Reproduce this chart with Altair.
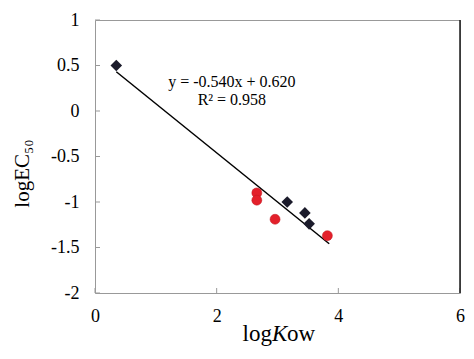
import altair as alt
import pandas as pd

# Data
diamond_x = [0.35, 3.16, 3.45, 3.52]
diamond_y = [0.50, -1.00, -1.12, -1.24]
circle_x = [2.66, 2.66, 2.96, 3.82]
circle_y = [-0.90, -0.98, -1.19, -1.37]

slope = -0.540
intercept = 0.620
fit_x = [0.35, 3.85]

x_ticks = [0, 2, 4, 6]
y_ticks = [-2, -1.5, -1, -0.5, 0, 0.5, 1]

eq_lines = ["y = -0.540x + 0.620", "R\u00b2 = 0.958"]
eq_x = [2.25, 2.25]
eq_y = [0.32, 0.12]

x_title_parts = ["log", "K", "ow"]

FONT = "Liberation Serif"

diamonds = pd.DataFrame({"x": diamond_x, "y": diamond_y})
circles = pd.DataFrame({"x": circle_x, "y": circle_y})
fit = pd.DataFrame({"x": fit_x, "y": [slope * v + intercept for v in fit_x]})
eq = pd.DataFrame({"x": eq_x, "y": eq_y, "t": eq_lines})
xt = pd.DataFrame({"x": x_ticks})
yt = pd.DataFrame({"y": y_ticks})

xscale = alt.Scale(domain=[0, 6], nice=False, zero=False)
yscale = alt.Scale(domain=[-2, 1], nice=False, zero=False)

lab = dict(labelFont=FONT, labelFontSize=18, labelColor="black", labelFlush=False,
           grid=False, ticks=False, domain=False)

xaxis = alt.Axis(values=x_ticks, title=None, labelExpr="replace(datum.label, '\u2212', '-')",
                 format="~g", labelPadding=14, **lab)
yaxis = alt.Axis(values=y_ticks, title="logEC\u2085\u2080", format="~g",
                 labelExpr="replace(datum.label, '\u2212', '-')", labelPadding=16,
                 titleFont=FONT, titleFontSize=21, titleFontWeight="normal", titleColor="black",
                 titleX=-73, titleY=153, titleAngle=270, titleAlign="center",
                 titleBaseline="middle", **lab)

X = alt.X("x:Q", scale=xscale, axis=xaxis)
Y = alt.Y("y:Q", scale=yscale, axis=yaxis)

xtick = alt.Chart(xt).mark_rule(color="#999999", strokeWidth=1).encode(
    x=X, y=alt.value(273), y2=alt.value(268))
ytick = alt.Chart(yt).mark_rule(color="#999999", strokeWidth=1).encode(
    y=Y, x=alt.value(0), x2=alt.value(5))

# darker right-hand frame edge, as in the reference
right_edge = alt.Chart(xt).transform_filter("datum.x == 6").mark_rule(
    color="#1a1a1a", strokeWidth=1.5).encode(x=X, y=alt.value(0), y2=alt.value(273))

line = alt.Chart(fit).mark_line(color="black", strokeWidth=1.5).encode(x=X, y=Y)

pts_d = alt.Chart(diamonds).mark_point(shape="diamond", filled=True, size=135,
                                       color="#1b1b2b", opacity=1).encode(x=X, y=Y)

pts_c = alt.Chart(circles).mark_circle(size=100, color="#e3202b", opacity=1,
                                       stroke="#c01820", strokeWidth=0.5).encode(x=X, y=Y)

txt = alt.Chart(eq).mark_text(font=FONT, fontSize=16, color="black", align="center",
                              baseline="middle").encode(x=X, y=Y, text="t:N")

# x-axis title with italic K
tp = pd.DataFrame({"t": x_title_parts})
t_log = alt.Chart(tp).transform_filter("datum.t == 'log'").mark_text(
    font=FONT, fontSize=23, color="black", align="right", baseline="alphabetic").encode(
    x=alt.value(177), y=alt.value(321), text="t:N")
t_k = alt.Chart(tp).transform_filter("datum.t == 'K'").mark_text(
    font=FONT, fontSize=23, fontStyle="italic", color="black", align="left",
    baseline="alphabetic").encode(x=alt.value(177), y=alt.value(321), text="t:N")
t_ow = alt.Chart(tp).transform_filter("datum.t == 'ow'").mark_text(
    font=FONT, fontSize=23, color="black", align="left", baseline="alphabetic").encode(
    x=alt.value(192), y=alt.value(321), text="t:N")

chart = alt.layer(xtick, ytick, right_edge, line, pts_d, pts_c, txt, t_log, t_k, t_ow).properties(
    width=365, height=273,
    autosize=alt.AutoSizeParams(type="none"),
    padding={"left": 87, "top": 12, "right": 6, "bottom": 58},
    background="white",
).configure(
    style={"guide-label": {"font": FONT}, "guide-title": {"font": FONT}},
    view=alt.ViewConfig(stroke="#999999", strokeWidth=1),
)

chart.save("out.html", embed_options={"renderer": "svg", "actions": False})
